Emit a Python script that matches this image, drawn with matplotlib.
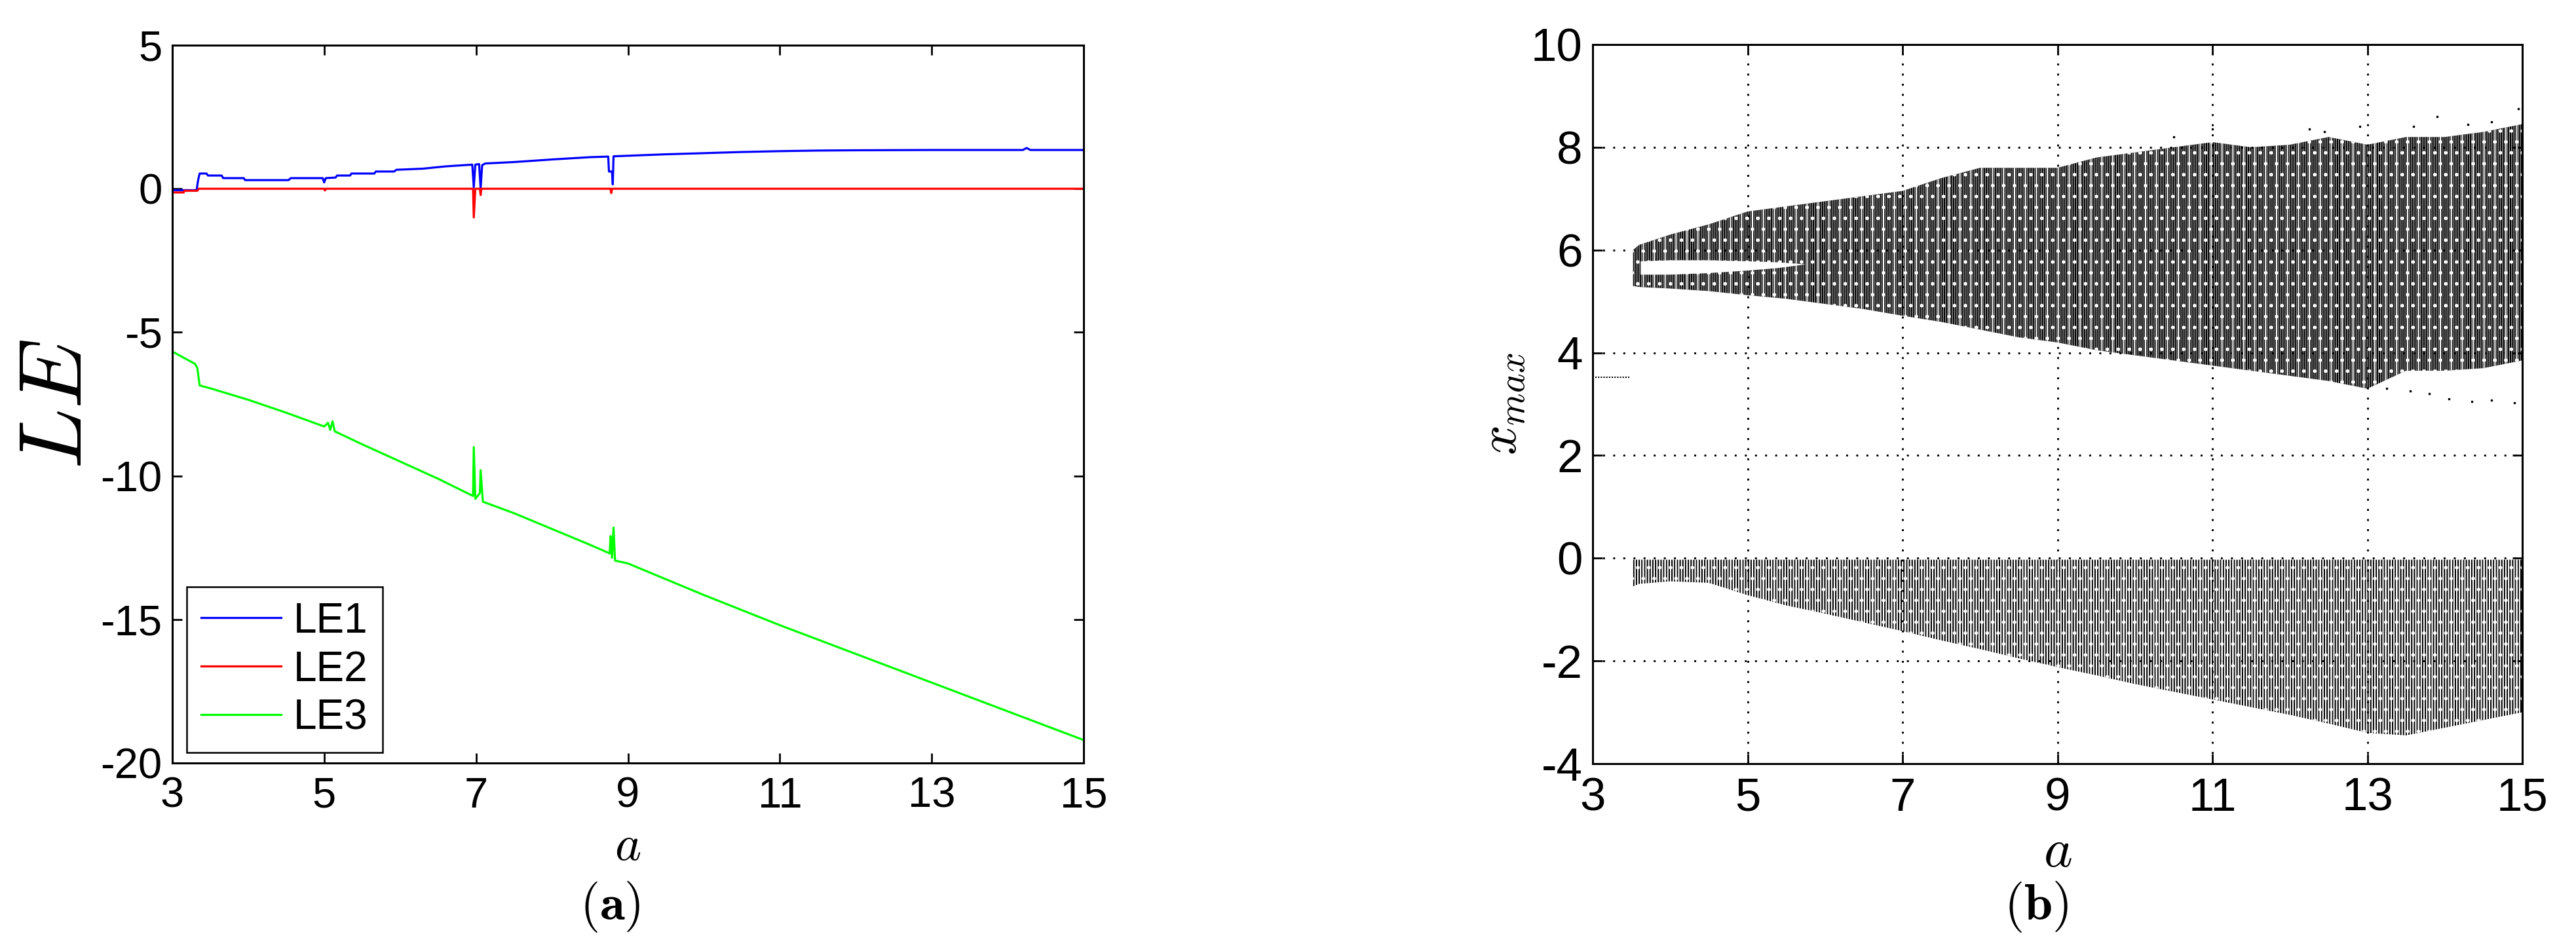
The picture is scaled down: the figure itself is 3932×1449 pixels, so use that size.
import numpy as np
import matplotlib
matplotlib.use('Agg')
import matplotlib.pyplot as plt

plt.rcParams['font.family'] = ['Liberation Sans', 'DejaVu Sans']
plt.rcParams['mathtext.fontset'] = 'cm'
plt.rcParams['axes.unicode_minus'] = False
plt.rcParams['hatch.linewidth'] = 1.5

# ---- panel (a): Lyapunov exponents vs a ----
a_le1 = [3.00, 3.32, 3.34, 3.36, 3.45, 3.47, 3.65, 3.67, 3.94, 3.96, 4.53, 4.56, 4.98, 5.00,
         5.02, 5.15, 5.17, 5.34, 5.36, 5.66, 5.68, 5.92, 5.95, 6.30, 6.60, 6.95, 6.97, 6.99,
         7.04, 7.06, 7.08, 7.12, 7.50, 8.00, 8.50, 8.74, 8.75, 8.79, 8.80, 8.81, 9.00, 9.50,
         10.0, 10.5, 11.0, 11.5, 12.0, 13.0, 14.2, 14.25, 14.3, 15.0]
le1 = [-0.05, -0.05, 0.30, 0.53, 0.53, 0.46, 0.46, 0.37, 0.37, 0.30, 0.30, 0.37, 0.37, 0.22,
       0.37, 0.39, 0.46, 0.46, 0.53, 0.53, 0.60, 0.60, 0.66, 0.70, 0.78, 0.84, 0.05, 0.84,
       0.86, 0.00, 0.82, 0.88, 0.93, 1.02, 1.10, 1.12, 0.60, 0.60, 0.15, 1.13, 1.15, 1.20,
       1.24, 1.28, 1.31, 1.33, 1.34, 1.35, 1.35, 1.42, 1.35, 1.35]

a_le2 = [3.00, 3.15, 3.16, 3.33, 3.35, 5.00, 5.01, 5.02, 6.96, 6.97, 6.99, 7.05, 7.06, 7.07,
         8.77, 8.78, 8.79, 15.0]
le2 = [-0.13, -0.13, -0.07, -0.07, 0.0, 0.0, -0.06, 0.0, 0.0, -1.0, 0.0, 0.0, -0.22, 0.0,
       0.0, -0.15, 0.0, 0.0]

a_le3 = [3.00, 3.30, 3.33, 3.36, 3.50, 4.00, 4.50, 5.00, 5.05, 5.08, 5.11, 5.14, 5.50, 6.00,
         6.50, 6.96, 6.97, 6.99, 7.05, 7.06, 7.09, 7.50, 8.00, 8.50, 8.76, 8.77, 8.79, 8.81,
         8.83, 9.00, 10.0, 11.0, 12.0, 13.0, 14.0, 15.0]
le3 = [-5.67, -6.10, -6.25, -6.85, -6.95, -7.35, -7.80, -8.28, -8.15, -8.40, -8.10, -8.45,
       -8.90, -9.50, -10.10, -10.70, -9.00, -10.80, -10.60, -9.80, -10.90, -11.30, -11.85,
       -12.40, -12.70, -12.10, -12.85, -11.80, -12.95, -13.05, -14.15, -15.20, -16.20,
       -17.20, -18.20, -19.20]

# ---- panel (b): bifurcation diagram envelopes ----
a_band = [3.52, 3.60, 4.0, 4.5, 5.0, 5.5, 6.0, 6.5, 7.0, 7.5, 8.0, 8.5, 9.0, 9.5, 10.0,
          10.5, 11.0, 11.5, 12.0, 12.5, 13.0, 13.5, 14.0, 14.5, 15.0]
up_hi = [6.0, 6.1, 6.3, 6.5, 6.75, 6.85, 6.95, 7.05, 7.15, 7.4, 7.6, 7.6, 7.6, 7.8, 7.9,
         8.0, 8.1, 8.0, 8.05, 8.2, 8.05, 8.2, 8.2, 8.3, 8.45]
up_lo = [5.3, 5.28, 5.25, 5.2, 5.12, 5.05, 4.95, 4.85, 4.72, 4.6, 4.45, 4.3, 4.2, 4.05, 3.95,
         3.85, 3.75, 3.65, 3.55, 3.45, 3.3, 3.65, 3.65, 3.7, 3.85]
low_hi = [-0.03] * 25
low_lo = [-0.55, -0.5, -0.45, -0.48, -0.72, -0.92, -1.08, -1.25, -1.42, -1.6, -1.77, -1.95,
          -2.12, -2.28, -2.45, -2.6, -2.75, -2.9, -3.05, -3.22, -3.4, -3.45, -3.3, -3.15, -3.0]

eye_a = [3.62, 4.0, 4.5, 5.0, 5.4, 5.75]
eye_lo = [5.52, 5.52, 5.55, 5.6, 5.65, 5.72]
eye_hi = [5.78, 5.8, 5.8, 5.78, 5.76, 5.72]

period1_a = [3.03, 3.48]
period1_x = [3.52, 3.52]

stray_a = [10.5, 11.0, 12.25, 12.45, 12.9, 13.6, 13.9, 14.3, 14.6, 14.95,
           13.25, 13.55, 13.8, 14.05, 14.35, 14.6, 14.9]
stray_x = [8.2, 8.35, 8.35, 8.3, 8.4, 8.4, 8.6, 8.45, 8.5, 8.75,
           3.3, 3.25, 3.2, 3.1, 3.05, 3.08, 3.02]

W, H = 3932, 1449
fig = plt.figure(figsize=(W / 100, H / 100), dpi=100)

ax1 = fig.add_axes([263 / W, 1 - 1165 / H, 1391 / W, 1096 / H])
ax2 = fig.add_axes([2431 / W, 1 - 1166 / H, 1419 / W, 1098 / H])

ax1.plot(a_le1, le1, color=(0, 0, 1), lw=2.3, label='LE1')
ax1.plot(a_le2, le2, color=(1, 0, 0), lw=2.3, label='LE2')
ax1.plot(a_le3, le3, color=(0, 1, 0), lw=2.3, label='LE3')
ax1.set_xlim(3, 15)
ax1.set_ylim(-20, 5)
ax1.set_xticks(np.arange(3, 16, 2))
ax1.set_yticks(np.arange(-20, 6, 5))
ax1.tick_params(direction='in', top=True, right=True, length=11, width=2,
                labelsize=47)
ax1.tick_params(axis='x', pad=15)
ax1.tick_params(axis='y', pad=11)
ax1.set_xlabel(r'$a$', fontsize=55)
ax1.xaxis.set_label_coords(0.5, -0.085)
ax1.set_ylabel(r'$LE$', fontsize=98)
ax1.yaxis.set_label_coords(-0.08, 0.5)
leg = ax1.legend(loc='lower left', bbox_to_anchor=(0.0158, 0.0146), borderaxespad=0,
                 fontsize=46, handlelength=1.9, handletextpad=0.3, borderpad=0.35,
                 labelspacing=0.22, fancybox=False, framealpha=1, edgecolor='k')
leg.get_frame().set_linewidth(1.8)

# panel (b): dense bands drawn as hatched regions, broken up with white dots and gaps
ax2.grid(True, color='k', linestyle=(0, (1, 4.3)), linewidth=2.1)
ax2.set_axisbelow(True)
bands = [
    (a_band, up_lo, up_hi, '||||||', '.'),
    (a_band, low_lo, low_hi, '||||', '.'),
]
for xs, lo, hi, dark, speck in bands:
    ax2.fill_between(xs, lo, hi, facecolor='none', edgecolor='k', linewidth=0, hatch=dark)
    ax2.fill_between(xs, lo, hi, facecolor='none', edgecolor='w', linewidth=0, hatch=speck)
    ax2.fill_between(xs, lo, hi, facecolor='none', edgecolor='w', linewidth=0, hatch='|')
ax2.fill_between(eye_a, eye_lo, eye_hi, facecolor='w', edgecolor='none', linewidth=0)
ax2.plot(period1_a, period1_x, color='k', lw=1.5, linestyle=(0, (1, 1)))
ax2.plot(stray_a, stray_x, linestyle='none', marker='s', ms=1.6, color='k')
ax2.set_xlim(3, 15)
ax2.set_ylim(-4, 10)
ax2.set_xticks(np.arange(3, 16, 2))
ax2.set_yticks(np.arange(-4, 11, 2))
ax2.tick_params(direction='in', top=True, right=True, length=11, width=2,
                labelsize=51)
ax2.tick_params(axis='x', pad=15)
ax2.tick_params(axis='y', pad=11)
ax2.set_xlabel(r'$a$', fontsize=60)
ax2.xaxis.set_label_coords(0.5, -0.087)
ax2.set_ylabel(r'$x_{max}$', fontsize=58)
ax2.yaxis.set_label_coords(-0.07, 0.5)

for ax in (ax1, ax2):
    for sp in ax.spines.values():
        sp.set_linewidth(2.2)

fig.text(931 / W, 1 - 1385 / H, r'$(\mathbf{a})$', ha='center', va='center', fontsize=56)
fig.text(3108 / W, 1 - 1385 / H, r'$(\mathbf{b})$', ha='center', va='center', fontsize=56)

fig.savefig('out.png', dpi=100)
